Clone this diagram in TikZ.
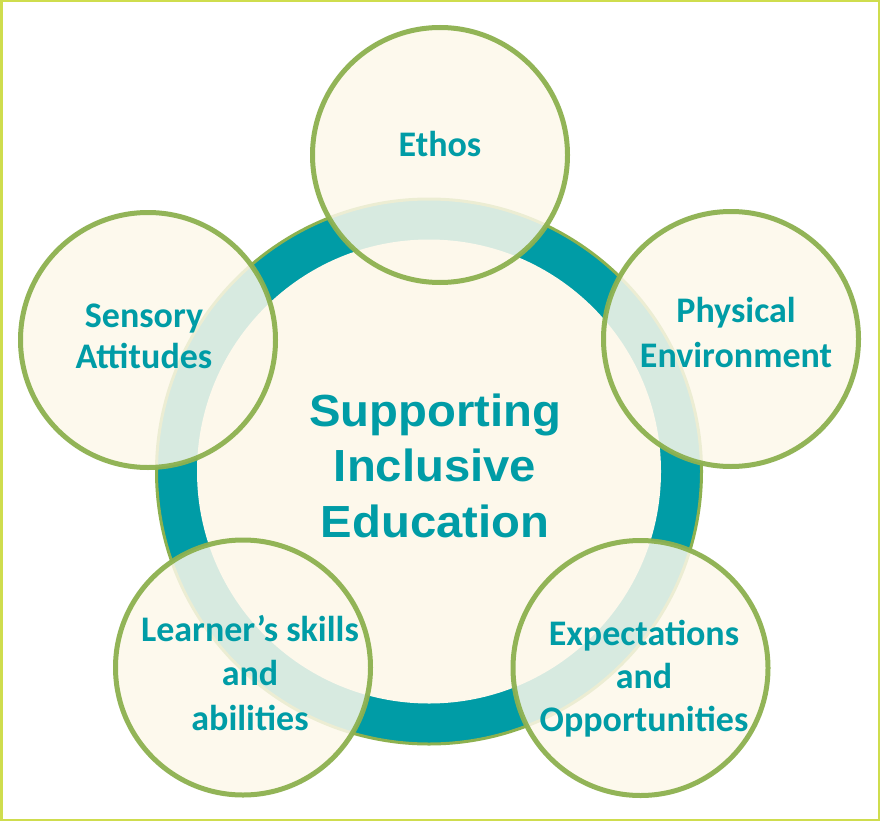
\documentclass[tikz,border=0pt]{standalone}
\usepackage{fontspec}
\setmainfont{Carlito}
\newfontfamily\centrefont[FakeStretch=1.05]{Liberation Sans}
\definecolor{teal1}{RGB}{0,156,166}
\definecolor{green1}{RGB}{141,177,79}
\definecolor{cream1}{RGB}{253,248,235}
\definecolor{frame1}{RGB}{207,221,78}
\tikzset{
  outercirc/.style={circle, draw=green1, line width=5pt, fill=cream1, fill opacity=0.85, draw opacity=0.95, minimum size=255pt, inner sep=0pt},
  label36/.style={anchor=base, align=center, text=teal1, font={\fontsize{36}{44}\bfseries\selectfont}},
  centrelabel/.style={anchor=base, align=center, text=teal1, font={\centrefont\fontsize{45}{55.5}\bfseries\selectfont}}
}
\begin{document}
\begin{tikzpicture}[x=1pt,y=-1pt]
\useasboundingbox (0,0) rectangle (880,821);
\fill[white] (0,0) rectangle (880,821);
\draw[frame1, line width=2.5pt] (1.25,1.25) rectangle (878.75,819.75);
% central ring
\node[circle, fill=teal1, draw=green1, line width=3pt, minimum size=545pt, inner sep=0pt] (ring) at (429,471.5) {};
\node[circle, fill=cream1, minimum size=464pt, inner sep=0pt] (core) at (ring.center) {};
% outer circles
\node[outercirc] (cethos) at (440,155) {};
\node[outercirc] (csensory) at (148,340) {};
\node[outercirc] (cphysical) at (731,339) {};
\node[outercirc] (clearner) at (243,667.5) {};
\node[outercirc] (cexpect) at (640.5,668) {};
% labels (base anchor = baseline of the last line)
\node[label36] (tethos) at (440,157) {Ethos};
\node[label36, font={\fontsize{36}{41}\bfseries\selectfont}] (tsensory) at (144,368) {Sensory\\Attitudes};
\node[label36, font={\fontsize{36}{45}\bfseries\selectfont}] (tphysical) at (736,367) {Physical\\Environment};
\node[label36, font={\fontsize{36}{44.5}\bfseries\selectfont}] (tlearner) at (250,730) {Learner’s skills\\and\\abilities};
\node[label36, font={\fontsize{36}{43}\bfseries\selectfont}] (texpect) at (644,731) {Expectations\\and\\Opportunities};
\node[centrelabel] (tcentre) at (435,537) {Supporting\\Inclusive\\Education};
\end{tikzpicture}
\end{document}
